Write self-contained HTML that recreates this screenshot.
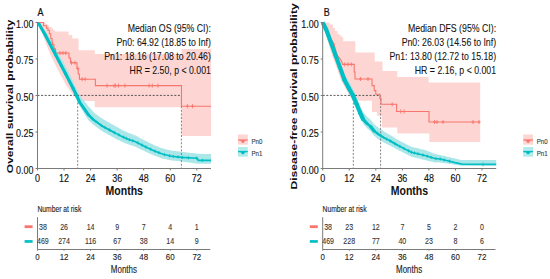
<!DOCTYPE html>
<html><head><meta charset="utf-8"><style>
html,body{margin:0;padding:0;background:#fff;}
svg{display:block;}
text{font-family:"Liberation Sans",sans-serif;fill:#111111;stroke:#111111;stroke-width:0.22px;}
.tk{font-size:11.2px;stroke-width:0.15px;}
.xt{font-size:12.1px;font-weight:bold;fill:#111;stroke:none;}
.yt{font-weight:bold;fill:#111;stroke:none;}
.pl{font-size:10.3px;}
.an{font-size:10.9px;stroke-width:0.08px;}
.lg{font-size:7.3px;fill:#333;stroke:#333;stroke-width:0.1px;}
.rt{font-size:8.25px;fill:#222;stroke:#222;stroke-width:0.12px;}
.rn{font-size:8.6px;fill:#333;stroke:#333;stroke-width:0.1px;}
.rx{font-size:9.9px;fill:#222;stroke:#222;stroke-width:0.12px;}
.rxt{font-size:10.0px;fill:#222;stroke:#222;stroke-width:0.12px;}
</style></head>
<body><svg width="550" height="279" viewBox="0 0 550 279">
<rect width="550" height="279" fill="#fff"/>
<polygon points="37.5,22.5 45.5,22.5 45.5,24 47.5,24 47.5,25.5 49.5,25.5 49.5,27 51.5,27 51.5,28.5 53,28.5 53,30 55,30 55,31.4 68.6,31.4 68.6,35 72.2,35 72.2,38.6 78.6,38.6 78.6,50.2 94.8,50.2 94.8,54 181.5,54 181.5,49.1 211,49.1 211,136 181.5,136 181.5,107.2 94.8,107.2 94.8,101 78.5,101 73,95 66,85 58,70 50.5,55 46.5,45 41,30 37.5,23" fill="#FDD6D3"/>
<polygon points="37.5,22 38.1,22.18 38.7,22.36 39.67,23.56 40.64,24.75 41.61,25.95 42.59,27.14 43.56,28.34 44.53,29.54 45.5,30.9 46.42,32.46 47.34,34.02 48.25,35.59 49.17,37.15 50.09,38.71 51.01,40.27 51.93,41.83 52.85,43.39 53.76,44.96 54.68,46.52 55.6,48.14 56.6,49.95 57.6,51.76 58.6,53.57 59.6,55.38 60.6,57.19 61.6,59 62.6,60.81 63.6,62.62 64.6,64.43 65.6,66.35 66.52,68.22 67.45,70.09 68.38,71.96 69.3,73.83 70.22,75.7 71.15,77.57 72.08,79.44 73,81.32 73.78,82.95 74.55,84.58 75.32,86.22 76.1,87.85 76.95,89.79 77.8,91.73 78.65,93.5 79.5,95.2 80.38,96.28 81.26,97.37 82.14,98.45 83.02,99.54 83.9,100.62 84.78,101.7 85.66,102.79 86.54,103.87 87.42,104.96 88.3,106.14 89.3,107.29 90.3,108.43 91.3,109.57 92.3,110.71 93.3,111.86 94.27,112.7 95.23,113.51 96.2,114.23 97.17,114.95 98.13,115.68 99.1,116.4 100.07,117.13 101.03,117.85 102,118.58 103,119.14 104,119.7 105,120.27 106,120.83 107,121.39 108,121.96 109,122.52 110,123.08 111,123.65 112,124.21 113,124.77 114,125.34 115,125.9 115.99,126.45 116.97,127.01 117.96,127.56 118.94,128.11 119.93,128.67 120.91,129.22 121.9,129.78 122.86,130.23 123.81,130.68 124.77,131.13 125.73,131.59 126.69,132.04 127.64,132.49 128.6,132.94 129.51,133.28 130.43,133.62 131.34,133.95 132.26,134.29 133.17,134.63 134.09,134.96 135,135.3 135.98,135.82 136.96,136.35 137.95,136.87 138.93,137.39 139.91,137.92 140.89,138.44 141.87,138.96 142.85,139.49 143.84,140.01 144.82,140.54 145.8,141.06 146.76,141.53 147.71,141.99 148.67,142.46 149.62,142.93 150.58,143.4 151.53,143.86 152.49,144.33 153.44,144.8 154.4,145.27 155.36,145.64 156.31,146.02 157.27,146.4 158.22,146.78 159.18,147.16 160.13,147.53 161.09,147.89 162.04,148.24 163,148.6 163.96,148.82 164.91,149.04 165.87,149.27 166.82,149.49 167.78,149.71 168.73,149.93 169.69,150.16 170.64,150.38 171.6,150.6 172.59,150.72 173.58,150.84 174.57,150.96 175.56,151.08 176.55,151.2 177.54,151.32 178.53,151.44 179.52,151.56 180.51,151.68 181.5,151.83 182.5,151.95 183.5,152.07 184.5,152.18 185.5,152.3 186.5,152.42 187.5,152.53 188.5,152.65 189.5,152.77 190.5,152.88 191.5,153 192.5,153.12 193.5,153.23 194.5,153.35 195.5,153.47 196.5,153.58 197.5,153.7 198,153.8 199,153.82 200,153.83 201,153.85 202,153.86 203,153.88 204,153.89 205,153.91 206,153.92 207,153.94 208,153.95 209,153.97 210,153.98 211,154 211,163.7 210,163.7 209,163.7 208,163.7 207,163.7 206,163.7 205,163.7 204,163.7 203,163.7 202,163.7 201,163.7 200,163.7 199,163.7 198,163.7 197.5,163.7 196.5,163.56 195.5,163.42 194.5,163.28 193.5,163.14 192.5,163 191.5,162.85 190.5,162.71 189.5,162.57 188.5,162.43 187.5,162.29 186.5,162.15 185.5,162.01 184.5,161.87 183.5,161.73 182.5,161.59 181.5,161.45 180.51,161.29 179.52,161.2 178.53,161.11 177.54,161.02 176.55,160.93 175.56,160.84 174.57,160.74 173.58,160.65 172.59,160.56 171.6,160.47 170.64,160.27 169.69,160.08 168.73,159.88 167.78,159.69 166.82,159.49 165.87,159.3 164.91,159.1 163.96,158.91 163,158.71 162.04,158.39 161.09,158.06 160.13,157.73 159.18,157.39 158.22,157.05 157.27,156.71 156.31,156.37 155.36,156.03 154.4,155.69 153.44,155.26 152.49,154.83 151.53,154.4 150.58,153.97 149.62,153.54 148.67,153.11 147.71,152.69 146.76,152.26 145.8,151.83 144.82,151.34 143.84,150.86 142.85,150.37 141.87,149.89 140.89,149.41 139.91,148.92 138.93,148.44 137.95,147.95 136.96,147.47 135.98,146.98 135,146.5 134.09,146.22 133.17,145.95 132.26,145.67 131.34,145.39 130.43,145.11 129.51,144.84 128.6,144.56 127.64,144.17 126.69,143.78 125.73,143.39 124.77,143 123.81,142.61 122.86,142.22 121.9,141.83 120.91,141.34 119.93,140.85 118.94,140.36 117.96,139.87 116.97,139.38 115.99,138.89 115,138.4 114,137.84 113,137.27 112,136.71 111,136.15 110,135.58 109,135.02 108,134.46 107,133.89 106,133.33 105,132.77 104,132.2 103,131.64 102,131.08 101.03,130.35 100.07,129.63 99.1,128.9 98.13,128.18 97.17,127.45 96.2,126.73 95.23,126.01 94.27,125.35 93.3,124.72 92.3,123.79 91.3,122.86 90.3,121.94 89.3,121.01 88.3,120.08 87.42,118.72 86.54,117.29 85.66,115.85 84.78,114.42 83.9,112.98 83.02,111.54 82.14,110.11 81.26,108.67 80.38,107.24 79.5,105.8 78.65,103.75 77.8,101.74 76.95,99.82 76.1,97.9 75.32,96.28 74.55,94.66 73.78,93.05 73,91.43 72.08,89.58 71.15,87.73 70.22,85.88 69.3,84.03 68.38,82.18 67.45,80.33 66.52,78.48 65.6,76.63 64.6,74.69 63.6,72.78 62.6,70.87 61.6,68.96 60.6,67.05 59.6,65.14 58.6,63.23 57.6,61.32 56.6,59.41 55.6,57.5 54.68,55.74 53.76,53.97 52.85,52.2 51.93,50.43 51.01,48.65 50.09,46.88 49.17,45.11 48.25,43.33 47.34,41.56 46.42,39.79 45.5,38.02 44.53,36.16 43.56,34.19 42.59,32.21 41.61,30.24 40.64,28.27 39.67,26.29 38.7,24.32 38.1,23.66 37.5,23" fill="#A2E3E5" fill-opacity="0.9"/>
<line x1="37.5" y1="95.4" x2="181.4" y2="95.4" stroke="#444" stroke-width="0.9" stroke-dasharray="2 1.6"/>
<line x1="77.7" y1="95.4" x2="77.7" y2="168.5" stroke="#777" stroke-width="0.9" stroke-dasharray="2 1.6"/>
<line x1="181.4" y1="95.4" x2="181.4" y2="168.5" stroke="#777" stroke-width="0.9" stroke-dasharray="2 1.6"/>
<polyline points="37.5,22.5 43.5,22.5 43.5,25.7 46.6,25.7 46.6,28.3 48,28.3 48,30.5 49.4,30.5 49.4,33.8 50.8,33.8 50.8,38.5 52,38.5 52,42 52.6,42 52.6,44.5 53.9,44.5 53.9,48.8 55.5,48.8 55.5,53 69,53 69,58 70.5,58 70.5,62.8 77,62.8 77,68.5 78.2,68.5 78.2,74 79.4,74 79.4,79.2 95.4,79.2 95.4,85.6 181.5,85.6 181.5,106.2 211,106.2" fill="none" stroke="#F8766D" stroke-width="1.1"/>
<path d="M60 51v4M58.5 53h3" stroke="#F8766D" stroke-width="0.9"/>
<path d="M62.9 51v4M61.4 53h3" stroke="#F8766D" stroke-width="0.9"/>
<path d="M65.8 51v4M64.3 53h3" stroke="#F8766D" stroke-width="0.9"/>
<path d="M71.5 60.8v4M70 62.8h3" stroke="#F8766D" stroke-width="0.9"/>
<path d="M75 60.8v4M73.5 62.8h3" stroke="#F8766D" stroke-width="0.9"/>
<path d="M77.9 66.5v4M76.4 68.5h3" stroke="#F8766D" stroke-width="0.9"/>
<path d="M82.2 77.2v4M80.7 79.2h3" stroke="#F8766D" stroke-width="0.9"/>
<path d="M85.1 77.2v4M83.6 79.2h3" stroke="#F8766D" stroke-width="0.9"/>
<path d="M107.1 83.6v4M105.6 85.6h3" stroke="#F8766D" stroke-width="0.9"/>
<path d="M114.1 83.6v4M112.6 85.6h3" stroke="#F8766D" stroke-width="0.9"/>
<path d="M115.6 83.6v4M114.1 85.6h3" stroke="#F8766D" stroke-width="0.9"/>
<path d="M118.5 83.6v4M117 85.6h3" stroke="#F8766D" stroke-width="0.9"/>
<path d="M124.9 83.6v4M123.4 85.6h3" stroke="#F8766D" stroke-width="0.9"/>
<path d="M149.1 83.6v4M147.6 85.6h3" stroke="#F8766D" stroke-width="0.9"/>
<path d="M152.3 83.6v4M150.8 85.6h3" stroke="#F8766D" stroke-width="0.9"/>
<path d="M158 83.6v4M156.5 85.6h3" stroke="#F8766D" stroke-width="0.9"/>
<path d="M187.4 104.2v4M185.9 106.2h3" stroke="#F8766D" stroke-width="0.9"/>
<path d="M192.5 104.2v4M191 106.2h3" stroke="#F8766D" stroke-width="0.9"/>
<polyline points="37.5,22.5 38.7,23.5 45.5,35.5 55.6,54.7 65.6,73.8 73,88.2 76.1,94.5 79.5,102 83.9,108.3 88.3,114.6 93.3,119.6 102,125.9 115,132.9 121.9,136.5 128.6,139.4 135,141.5 145.8,147 154.4,151 163,154.2 171.6,156.2 181.5,157.4 197.5,158.2 198,160.4 211,160.4" fill="none" stroke="#00BFC4" stroke-width="1.6" stroke-linejoin="bevel"/>
<line x1="38.7" y1="23.5" x2="45.5" y2="35.5" stroke="#00BFC4" stroke-width="3.1" stroke-linecap="butt"/>
<line x1="45.5" y1="35.5" x2="55.6" y2="54.7" stroke="#00BFC4" stroke-width="3.1" stroke-linecap="round"/>
<line x1="55.6" y1="54.7" x2="65.6" y2="73.8" stroke="#00BFC4" stroke-width="3.1" stroke-linecap="round"/>
<line x1="65.6" y1="73.8" x2="73" y2="88.2" stroke="#00BFC4" stroke-width="3.1" stroke-linecap="round"/>
<line x1="73" y1="88.2" x2="76.1" y2="94.5" stroke="#00BFC4" stroke-width="3.1" stroke-linecap="round"/>
<line x1="76.1" y1="94.5" x2="79.5" y2="102" stroke="#00BFC4" stroke-width="3.1" stroke-linecap="round"/>
<line x1="79.5" y1="102" x2="83.9" y2="108.3" stroke="#00BFC4" stroke-width="2.87" stroke-linecap="round"/>
<line x1="83.9" y1="108.3" x2="88.3" y2="114.6" stroke="#00BFC4" stroke-width="2.87" stroke-linecap="round"/>
<line x1="88.3" y1="114.6" x2="93.3" y2="119.6" stroke="#00BFC4" stroke-width="2.28" stroke-linecap="round"/>
<line x1="93.3" y1="119.6" x2="102" y2="125.9" stroke="#00BFC4" stroke-width="1.91" stroke-linecap="round"/>
<line x1="102" y1="125.9" x2="115" y2="132.9" stroke="#00BFC4" stroke-width="1.65" stroke-linecap="round"/>
<path d="M39.5 23.31v3.2M38.2 24.91h2.6" stroke="#00BFC4" stroke-width="0.9"/>
<path d="M41.22 26.34v3.2M39.92 27.94h2.6" stroke="#00BFC4" stroke-width="0.9"/>
<path d="M42.66 28.89v3.2M41.36 30.49h2.6" stroke="#00BFC4" stroke-width="0.9"/>
<path d="M44.9 32.84v3.2M43.6 34.44h2.6" stroke="#00BFC4" stroke-width="0.9"/>
<path d="M46.22 35.26v3.2M44.92 36.86h2.6" stroke="#00BFC4" stroke-width="0.9"/>
<path d="M48.27 39.17v3.2M46.97 40.77h2.6" stroke="#00BFC4" stroke-width="0.9"/>
<path d="M50.06 42.57v3.2M48.76 44.17h2.6" stroke="#00BFC4" stroke-width="0.9"/>
<path d="M51.35 45.02v3.2M50.05 46.62h2.6" stroke="#00BFC4" stroke-width="0.9"/>
<path d="M53.36 48.85v3.2M52.06 50.45h2.6" stroke="#00BFC4" stroke-width="0.9"/>
<path d="M54.62 51.24v3.2M53.32 52.84h2.6" stroke="#00BFC4" stroke-width="0.9"/>
<path d="M56.52 54.85v3.2M55.22 56.45h2.6" stroke="#00BFC4" stroke-width="0.9"/>
<path d="M57.83 57.36v3.2M56.53 58.96h2.6" stroke="#00BFC4" stroke-width="0.9"/>
<path d="M59.17 59.93v3.2M57.87 61.53h2.6" stroke="#00BFC4" stroke-width="0.9"/>
<path d="M61.05 63.52v3.2M59.75 65.12h2.6" stroke="#00BFC4" stroke-width="0.9"/>
<path d="M63.58 68.34v3.2M62.28 69.94h2.6" stroke="#00BFC4" stroke-width="0.9"/>
<path d="M64.98 71.01v3.2M63.68 72.61h2.6" stroke="#00BFC4" stroke-width="0.9"/>
<path d="M66.53 74.01v3.2M65.23 75.61h2.6" stroke="#00BFC4" stroke-width="0.9"/>
<path d="M68.74 78.3v3.2M67.44 79.9h2.6" stroke="#00BFC4" stroke-width="0.9"/>
<path d="M71.45 83.59v3.2M70.15 85.19h2.6" stroke="#00BFC4" stroke-width="0.9"/>
<path d="M73.58 87.77v3.2M72.28 89.37h2.6" stroke="#00BFC4" stroke-width="0.9"/>
<path d="M75.41 91.5v3.2M74.11 93.1h2.6" stroke="#00BFC4" stroke-width="0.9"/>
<path d="M78.17 97.47v3.2M76.87 99.07h2.6" stroke="#00BFC4" stroke-width="0.9"/>
<path d="M79.45 100.28v3.2M78.15 101.88h2.6" stroke="#00BFC4" stroke-width="0.9"/>
<path d="M82.02 104.01v3.2M80.72 105.61h2.6" stroke="#00BFC4" stroke-width="0.9"/>
<path d="M85.76 109.37v3.2M84.46 110.97h2.6" stroke="#00BFC4" stroke-width="0.9"/>
<path d="M88.98 113.68v3.2M87.68 115.28h2.6" stroke="#00BFC4" stroke-width="0.9"/>
<path d="M92.11 116.81v3.2M90.81 118.41h2.6" stroke="#00BFC4" stroke-width="0.9"/>
<path d="M95.92 119.9v3.2M94.62 121.5h2.6" stroke="#00BFC4" stroke-width="0.9"/>
<path d="M101.56 123.98v3.2M100.26 125.58h2.6" stroke="#00BFC4" stroke-width="0.9"/>
<path d="M104.91 125.86v3.2M103.61 127.46h2.6" stroke="#00BFC4" stroke-width="0.9"/>
<path d="M109.7 128.45v3.2M108.4 130.05h2.6" stroke="#00BFC4" stroke-width="0.9"/>
<path d="M114.7 131.14v3.2M113.4 132.74h2.6" stroke="#00BFC4" stroke-width="0.9"/>
<path d="M118.74 133.25v3.2M117.44 134.85h2.6" stroke="#00BFC4" stroke-width="0.9"/>
<path d="M123.41 135.55v3.2M122.11 137.15h2.6" stroke="#00BFC4" stroke-width="0.9"/>
<path d="M126.34 136.82v3.2M125.04 138.42h2.6" stroke="#00BFC4" stroke-width="0.9"/>
<path d="M129.25 138.01v3.2M127.95 139.61h2.6" stroke="#00BFC4" stroke-width="0.9"/>
<path d="M132.69 139.14v3.2M131.39 140.74h2.6" stroke="#00BFC4" stroke-width="0.9"/>
<path d="M137.84 141.35v3.2M136.54 142.95h2.6" stroke="#00BFC4" stroke-width="0.9"/>
<path d="M142.08 143.51v3.2M140.78 145.11h2.6" stroke="#00BFC4" stroke-width="0.9"/>
<path d="M145.91 145.45v3.2M144.61 147.05h2.6" stroke="#00BFC4" stroke-width="0.9"/>
<path d="M150.72 147.69v3.2M149.42 149.29h2.6" stroke="#00BFC4" stroke-width="0.9"/>
<path d="M155.05 149.64v3.2M153.75 151.24h2.6" stroke="#00BFC4" stroke-width="0.9"/>
<path d="M158.83 151.05v3.2M157.53 152.65h2.6" stroke="#00BFC4" stroke-width="0.9"/>
<path d="M164.39 152.92v3.2M163.09 154.52h2.6" stroke="#00BFC4" stroke-width="0.9"/>
<path d="M169.61 154.14v3.2M168.31 155.74h2.6" stroke="#00BFC4" stroke-width="0.9"/>
<path d="M173.19 154.79v3.2M171.89 156.39h2.6" stroke="#00BFC4" stroke-width="0.9"/>
<path d="M177.96 155.37v3.2M176.66 156.97h2.6" stroke="#00BFC4" stroke-width="0.9"/>
<path d="M182.55 155.85v3.2M181.25 157.45h2.6" stroke="#00BFC4" stroke-width="0.9"/>
<path d="M188.4 156.14v3.2M187.1 157.74h2.6" stroke="#00BFC4" stroke-width="0.9"/>
<path d="M196.68 156.56v3.2M195.38 158.16h2.6" stroke="#00BFC4" stroke-width="0.9"/>
<path d="M202.49 158.8v3.2M201.19 160.4h2.6" stroke="#00BFC4" stroke-width="0.9"/>
<path d="M37.5 22V168.5H211" fill="none" stroke="#7a7a7a" stroke-width="1"/>
<path d="M35.5 168.5h2" stroke="#7a7a7a" stroke-width="1"/>
<text transform="translate(33.5 173.5) scale(0.8 1)" text-anchor="end" class="tk">0.00</text>
<path d="M35.5 132h2" stroke="#7a7a7a" stroke-width="1"/>
<text transform="translate(33.5 137) scale(0.8 1)" text-anchor="end" class="tk">0.25</text>
<path d="M35.5 95.5h2" stroke="#7a7a7a" stroke-width="1"/>
<text transform="translate(33.5 100.5) scale(0.8 1)" text-anchor="end" class="tk">0.50</text>
<path d="M35.5 59h2" stroke="#7a7a7a" stroke-width="1"/>
<text transform="translate(33.5 64) scale(0.8 1)" text-anchor="end" class="tk">0.75</text>
<path d="M35.5 22.5h2" stroke="#7a7a7a" stroke-width="1"/>
<text transform="translate(33.5 27.5) scale(0.8 1)" text-anchor="end" class="tk">1.00</text>
<path d="M37.5 168.5v2" stroke="#7a7a7a" stroke-width="1"/>
<text transform="translate(37.5 181.6) scale(0.8 1)" text-anchor="middle" class="tk">0</text>
<path d="M64.05 168.5v2" stroke="#7a7a7a" stroke-width="1"/>
<text transform="translate(64.05 181.6) scale(0.8 1)" text-anchor="middle" class="tk">12</text>
<path d="M90.6 168.5v2" stroke="#7a7a7a" stroke-width="1"/>
<text transform="translate(90.6 181.6) scale(0.8 1)" text-anchor="middle" class="tk">24</text>
<path d="M117.15 168.5v2" stroke="#7a7a7a" stroke-width="1"/>
<text transform="translate(117.15 181.6) scale(0.8 1)" text-anchor="middle" class="tk">36</text>
<path d="M143.7 168.5v2" stroke="#7a7a7a" stroke-width="1"/>
<text transform="translate(143.7 181.6) scale(0.8 1)" text-anchor="middle" class="tk">48</text>
<path d="M170.25 168.5v2" stroke="#7a7a7a" stroke-width="1"/>
<text transform="translate(170.25 181.6) scale(0.8 1)" text-anchor="middle" class="tk">60</text>
<path d="M196.8 168.5v2" stroke="#7a7a7a" stroke-width="1"/>
<text transform="translate(196.8 181.6) scale(0.8 1)" text-anchor="middle" class="tk">72</text>
<text transform="translate(124.25 194.7) scale(0.87 1)" text-anchor="middle" class="xt">Months</text>
<text transform="translate(12.6 96.4) scale(0.8 1) rotate(-90)" text-anchor="middle" class="yt" style="font-size:11.96px">Overall survival probability</text>
<text transform="translate(37.4 15.7) scale(0.87 1)" class="pl">A</text>
<text transform="translate(210.9 31.7) scale(0.805 1)" text-anchor="end" class="an">Median OS (95% CI):</text>
<text transform="translate(210.9 45.77) scale(0.805 1)" text-anchor="end" class="an">Pn0: 64.92 (18.85 to Inf)</text>
<text transform="translate(210.9 59.84) scale(0.805 1)" text-anchor="end" class="an">Pn1: 18.16 (17.08 to 20.46)</text>
<text transform="translate(210.9 73.91) scale(0.805 1)" text-anchor="end" class="an">HR = 2.50, p &lt; 0.001</text>
<rect x="238" y="134.5" width="9.8" height="10.1" fill="#FDD6D3"/>
<rect x="238" y="147" width="9.8" height="9.7" fill="#B3EAEC"/>
<path d="M238 140h9.8" stroke="#F8766D" stroke-width="1.2"/>
<path d="M238 151.6h9.8" stroke="#00BFC4" stroke-width="1.4"/>
<path d="M240.2 140l5.4 0l-1.9 2.7h-1.6z" fill="#F8766D"/>
<path d="M240.2 151.6l5.4 0l-1.9 2.7h-1.6z" fill="#00BFC4"/>
<text transform="translate(251.5 143.5) scale(0.84 1)" class="lg">Pn0</text>
<text transform="translate(251.5 155.6) scale(0.84 1)" class="lg">Pn1</text>
<text transform="translate(37.4 212.3) scale(0.82 1)" class="rt">Number at risk</text>
<path d="M37.5 217.2V249.5H210.3" fill="none" stroke="#7a7a7a" stroke-width="1"/>
<rect x="24.6" y="225.3" width="8" height="2.8" fill="#F8766D"/>
<rect x="24.6" y="240.1" width="8" height="2.7" fill="#00BFC4"/>
<path d="M37.5 249.5v1.2" stroke="#7a7a7a" stroke-width="1"/>
<text transform="translate(37.5 260.4) scale(0.8 1)" text-anchor="middle" class="rx">0</text>
<text transform="translate(42.9 229.9) scale(0.82 1)" text-anchor="middle" class="rn">38</text>
<text transform="translate(42.9 244.2) scale(0.82 1)" text-anchor="middle" class="rn">469</text>
<path d="M64.05 249.5v1.2" stroke="#7a7a7a" stroke-width="1"/>
<text transform="translate(64.05 260.4) scale(0.8 1)" text-anchor="middle" class="rx">12</text>
<text transform="translate(64.05 229.9) scale(0.82 1)" text-anchor="middle" class="rn">26</text>
<text transform="translate(64.05 244.2) scale(0.82 1)" text-anchor="middle" class="rn">274</text>
<path d="M90.6 249.5v1.2" stroke="#7a7a7a" stroke-width="1"/>
<text transform="translate(90.6 260.4) scale(0.8 1)" text-anchor="middle" class="rx">24</text>
<text transform="translate(90.6 229.9) scale(0.82 1)" text-anchor="middle" class="rn">14</text>
<text transform="translate(90.6 244.2) scale(0.82 1)" text-anchor="middle" class="rn">116</text>
<path d="M117.15 249.5v1.2" stroke="#7a7a7a" stroke-width="1"/>
<text transform="translate(117.15 260.4) scale(0.8 1)" text-anchor="middle" class="rx">36</text>
<text transform="translate(117.15 229.9) scale(0.82 1)" text-anchor="middle" class="rn">9</text>
<text transform="translate(117.15 244.2) scale(0.82 1)" text-anchor="middle" class="rn">67</text>
<path d="M143.7 249.5v1.2" stroke="#7a7a7a" stroke-width="1"/>
<text transform="translate(143.7 260.4) scale(0.8 1)" text-anchor="middle" class="rx">48</text>
<text transform="translate(143.7 229.9) scale(0.82 1)" text-anchor="middle" class="rn">7</text>
<text transform="translate(143.7 244.2) scale(0.82 1)" text-anchor="middle" class="rn">38</text>
<path d="M170.25 249.5v1.2" stroke="#7a7a7a" stroke-width="1"/>
<text transform="translate(170.25 260.4) scale(0.8 1)" text-anchor="middle" class="rx">60</text>
<text transform="translate(170.25 229.9) scale(0.82 1)" text-anchor="middle" class="rn">4</text>
<text transform="translate(170.25 244.2) scale(0.82 1)" text-anchor="middle" class="rn">14</text>
<path d="M196.8 249.5v1.2" stroke="#7a7a7a" stroke-width="1"/>
<text transform="translate(196.8 260.4) scale(0.8 1)" text-anchor="middle" class="rx">72</text>
<text transform="translate(196.8 229.9) scale(0.82 1)" text-anchor="middle" class="rn">1</text>
<text transform="translate(196.8 244.2) scale(0.82 1)" text-anchor="middle" class="rn">9</text>
<text transform="translate(123.9 272.7) scale(0.8 1)" text-anchor="middle" class="rxt">Months</text>
<polygon points="322.7,22.5 329.7,22.5 329.7,24.5 332.9,24.5 332.9,27.7 335,27.7 335,31 337.5,31 337.5,34 339.5,34 339.5,35.5 341.5,35.5 341.5,37.3 343.2,37.3 343.2,41.3 355.3,41.3 355.3,52.6 374.7,52.6 374.7,61.5 382.5,61.5 382.5,71 397.2,71 397.2,77 428.6,77 428.6,82.5 480.2,82.5 480.2,142 429.4,142 429.4,133.4 397.2,133.4 397.2,127.5 382,127.5 382,115.7 377,115.7 377,112 372,112 372,100.8 356,100.8 353,100.8 349.5,95.4 345.5,88.5 341,80 337.5,70 332,55.4 328,42 325,32 322.7,23" fill="#FDD6D3"/>
<polygon points="322.7,22 323.62,23.6 324.55,25.21 325.47,26.81 326.4,28.41 327.32,30.68 328.24,32.95 329.16,35.22 330.08,37.49 331,39.76 331.92,42.03 332.84,44.3 333.76,46.57 334.68,48.84 335.6,51.11 336.59,53.55 337.58,55.99 338.57,58.51 339.56,61.07 340.54,63.64 341.53,66.21 342.52,68.78 343.51,71.35 344.5,73.92 345.4,75.47 346.3,77.02 347.2,78.57 348.1,80.12 349,81.67 349.98,83.23 350.95,84.95 351.92,86.68 352.9,88.4 353.8,90.55 354.7,92.7 355.6,94.85 356.5,97 357.38,99.12 358.25,101.25 359.12,103.38 360,105.5 361,107.67 362,109.83 363,112.03 363.88,113.05 364.75,114.08 365.62,115.1 366.5,116.12 367.36,116.91 368.22,117.69 369.08,118.48 369.94,119.26 370.8,120.04 371.6,121.07 372.4,122.09 373.2,123.11 374,124.13 374.9,124.84 375.8,125.55 376.7,126.26 377.6,126.97 378.5,127.67 379.4,128.38 380.28,128.95 381.17,129.54 382.05,130.12 382.93,130.71 383.82,131.29 384.7,131.88 385.58,132.38 386.47,132.88 387.35,133.38 388.23,133.88 389.12,134.39 390,134.89 390.9,135.47 391.8,136.04 392.7,136.62 393.6,137.2 394.5,137.78 395.4,138.36 396.3,138.93 397.2,139.5 398.18,140 399.15,140.5 400.12,141 401.1,141.5 402.07,142 403.05,142.5 404.02,143 405,143.5 405.93,143.97 406.86,144.44 407.79,144.91 408.71,145.39 409.64,145.86 410.57,146.33 411.5,146.8 412.4,147.01 413.3,147.23 414.2,147.44 415.1,147.65 416,147.86 416.9,148.07 417.8,148.29 418.7,148.5 419.59,148.72 420.48,148.95 421.36,149.18 422.25,149.4 423.14,149.62 424.02,149.85 424.91,150.08 425.8,150.3 426.8,150.69 427.8,151.09 428.8,151.5 429.8,151.91 430.8,152.31 431.8,152.72 432.8,153.13 433.8,153.54 434.8,153.94 435.67,154.12 436.53,154.3 437.4,154.47 438.27,154.65 439.13,154.82 440,155 440.94,155.21 441.88,155.43 442.81,155.64 443.75,155.85 444.69,156.06 445.62,156.27 446.56,156.49 447.5,156.7 448.44,156.94 449.38,157.17 450.31,157.41 451.25,157.65 452.19,157.89 453.12,158.12 454.06,158.36 455,158.6 456,158.81 457,159.03 458,159.24 459,159.46 460,159.67 461,159.89 462,160.1 462.98,160.1 463.95,160.1 464.93,160.1 465.91,160.1 466.89,160.1 467.86,160.1 468.84,160.1 469.82,160.1 470.79,160.1 471.77,160.1 472.75,160.1 473.73,160.1 474.7,160.1 475.68,160.1 476.66,160.1 477.63,160.1 478.61,160.1 479.59,160.1 480.57,160.1 481.54,160.1 482.52,160.1 483.5,160.1 484.47,160.1 485.45,160.1 486.43,160.1 487.41,160.1 488.38,160.1 489.36,160.1 490.34,160.1 491.31,160.1 492.29,160.1 493.27,160.1 494.25,160.1 495.22,160.1 496.2,160.1 496.2,165.8 495.22,165.8 494.25,165.79 493.27,165.79 492.29,165.79 491.31,165.78 490.34,165.78 489.36,165.78 488.38,165.78 487.41,165.77 486.43,165.77 485.45,165.77 484.47,165.76 483.5,165.76 482.52,165.76 481.54,165.76 480.57,165.75 479.59,165.75 478.61,165.75 477.63,165.75 476.66,165.74 475.68,165.74 474.7,165.74 473.73,165.73 472.75,165.73 471.77,165.73 470.79,165.73 469.82,165.72 468.84,165.72 467.86,165.72 466.89,165.71 465.91,165.71 464.93,165.71 463.95,165.71 462.98,165.7 462,165.7 461,165.57 460,165.44 459,165.32 458,165.19 457,165.06 456,164.93 455,164.8 454.06,164.65 453.12,164.49 452.19,164.33 451.25,164.18 450.31,164.02 449.38,163.87 448.44,163.71 447.5,163.55 446.56,163.42 445.62,163.29 444.69,163.16 443.75,163.03 442.81,162.89 441.88,162.76 440.94,162.63 440,162.5 439.13,162.48 438.27,162.46 437.4,162.44 436.53,162.41 435.67,162.39 434.8,162.37 433.8,162.14 432.8,161.91 431.8,161.69 430.8,161.46 429.8,161.23 428.8,161 427.8,160.77 426.8,160.54 425.8,160.3 424.91,160.08 424.02,159.85 423.14,159.62 422.25,159.4 421.36,159.18 420.48,158.95 419.59,158.72 418.7,158.5 417.8,158.29 416.9,158.07 416,157.86 415.1,157.65 414.2,157.44 413.3,157.23 412.4,157.01 411.5,156.8 410.57,156.33 409.64,155.86 408.71,155.39 407.79,154.91 406.86,154.44 405.93,153.97 405,153.5 404.02,153 403.05,152.5 402.07,152 401.1,151.5 400.12,151 399.15,150.5 398.18,150 397.2,149.5 396.3,149 395.4,148.5 394.5,148 393.6,147.5 392.7,147 391.8,146.5 390.9,146 390,145.51 389.12,145.08 388.23,144.66 387.35,144.23 386.47,143.81 385.58,143.39 384.7,142.96 383.82,142.45 382.93,141.95 382.05,141.44 381.17,140.93 380.28,140.43 379.4,139.88 378.5,139.18 377.6,138.47 376.7,137.76 375.8,137.05 374.9,136.34 374,135.63 373.2,134.61 372.4,133.59 371.6,132.57 370.8,131.54 369.94,130.76 369.08,129.98 368.22,129.19 367.36,128.41 366.5,127.62 365.62,126.6 364.75,125.58 363.88,124.55 363,123.53 362,121.33 361,119.08 360,116.83 359.12,114.64 358.25,112.44 357.38,110.24 356.5,108.04 355.6,105.82 354.7,103.59 353.8,101.37 352.9,99.14 351.92,97.34 350.95,95.53 349.98,93.72 349,91.96 348.1,90.22 347.2,88.48 346.3,86.75 345.4,85.01 344.5,83.27 343.51,80.5 342.52,77.72 341.53,74.95 340.54,72.17 339.56,69.4 338.57,66.62 337.58,63.8 336.59,60.9 335.6,58.01 334.68,55.32 333.76,52.63 332.84,49.94 331.92,47.25 331,44.56 330.08,41.87 329.16,39.18 328.24,36.49 327.32,33.79 326.4,31.1 325.47,29.08 324.55,27.05 323.62,25.03 322.7,23" fill="#A2E3E5" fill-opacity="0.9"/>
<line x1="322.7" y1="95.4" x2="380.9" y2="95.4" stroke="#444" stroke-width="0.9" stroke-dasharray="2 1.6"/>
<line x1="353.3" y1="95.4" x2="353.3" y2="168.5" stroke="#777" stroke-width="0.9" stroke-dasharray="2 1.6"/>
<line x1="380.6" y1="95.4" x2="380.6" y2="168.5" stroke="#777" stroke-width="0.9" stroke-dasharray="2 1.6"/>
<polyline points="322.7,22.5 331.8,40.6 334,43.8 335,48.1 337.2,55.6 339.4,57.8 341.5,61 342.6,64.4 354.2,64.4 354.2,72 355,72 355,79 372,79 372,85.6 374.2,85.6 374.2,90.6 375.8,90.6 375.8,94.2 379.9,94.2 379.9,98.5 381,98.5 381,104.3 396.6,104.3 396.6,111.5 429,111.5 429,122 480.2,122" fill="none" stroke="#F8766D" stroke-width="1.1"/>
<path d="M344.8 62.4v4M343.3 64.4h3" stroke="#F8766D" stroke-width="0.9"/>
<path d="M348 62.4v4M346.5 64.4h3" stroke="#F8766D" stroke-width="0.9"/>
<path d="M351.3 62.4v4M349.8 64.4h3" stroke="#F8766D" stroke-width="0.9"/>
<path d="M360.5 77v4M359 79h3" stroke="#F8766D" stroke-width="0.9"/>
<path d="M368 77v4M366.5 79h3" stroke="#F8766D" stroke-width="0.9"/>
<path d="M392.2 102.4v4M390.7 104.4h3" stroke="#F8766D" stroke-width="0.9"/>
<path d="M400.8 109.5v4M399.3 111.5h3" stroke="#F8766D" stroke-width="0.9"/>
<path d="M404.2 109.5v4M402.7 111.5h3" stroke="#F8766D" stroke-width="0.9"/>
<path d="M434.5 120v4M433 122h3" stroke="#F8766D" stroke-width="0.9"/>
<path d="M437 120v4M435.5 122h3" stroke="#F8766D" stroke-width="0.9"/>
<path d="M443 120v4M441.5 122h3" stroke="#F8766D" stroke-width="0.9"/>
<path d="M473 120v4M471.5 122h3" stroke="#F8766D" stroke-width="0.9"/>
<path d="M479 120v4M477.5 122h3" stroke="#F8766D" stroke-width="0.9"/>
<polyline points="322.7,22.5 326.4,30 335.6,55.4 344.5,80 349,88.5 352.9,95.4 356.5,104 360,112.5 363,119 366.5,123 370.8,126.8 374,130.8 379.4,134.9 384.7,138.1 390,140.8 397.2,145 405,149 411.5,152.3 418.7,154 425.8,155.8 434.8,158.5 440,159 447.5,160.7 455,162.6 462,164.1 496.2,164.4" fill="none" stroke="#00BFC4" stroke-width="1.6" stroke-linejoin="bevel"/>
<line x1="322.7" y1="22.5" x2="326.4" y2="30" stroke="#00BFC4" stroke-width="4.2" stroke-linecap="butt"/>
<line x1="326.4" y1="30" x2="335.6" y2="55.4" stroke="#00BFC4" stroke-width="4.2" stroke-linecap="round"/>
<line x1="335.6" y1="55.4" x2="344.5" y2="80" stroke="#00BFC4" stroke-width="4.2" stroke-linecap="round"/>
<line x1="344.5" y1="80" x2="349" y2="88.5" stroke="#00BFC4" stroke-width="4.2" stroke-linecap="round"/>
<line x1="349" y1="88.5" x2="352.9" y2="95.4" stroke="#00BFC4" stroke-width="4.2" stroke-linecap="round"/>
<line x1="352.9" y1="95.4" x2="356.5" y2="104" stroke="#00BFC4" stroke-width="4.2" stroke-linecap="round"/>
<line x1="356.5" y1="104" x2="360" y2="112.5" stroke="#00BFC4" stroke-width="4.2" stroke-linecap="round"/>
<line x1="360" y1="112.5" x2="363" y2="119" stroke="#00BFC4" stroke-width="4.2" stroke-linecap="round"/>
<line x1="363" y1="119" x2="366.5" y2="123" stroke="#00BFC4" stroke-width="3.12" stroke-linecap="round"/>
<line x1="366.5" y1="123" x2="370.8" y2="126.8" stroke="#00BFC4" stroke-width="2.51" stroke-linecap="round"/>
<line x1="370.8" y1="126.8" x2="374" y2="130.8" stroke="#00BFC4" stroke-width="3.37" stroke-linecap="round"/>
<line x1="374" y1="130.8" x2="379.4" y2="134.9" stroke="#00BFC4" stroke-width="2.21" stroke-linecap="round"/>
<line x1="379.4" y1="134.9" x2="384.7" y2="138.1" stroke="#00BFC4" stroke-width="1.85" stroke-linecap="round"/>
<line x1="390" y1="140.8" x2="397.2" y2="145" stroke="#00BFC4" stroke-width="1.8" stroke-linecap="round"/>
<path d="M324.7 24.95v3.2M323.4 26.55h2.6" stroke="#00BFC4" stroke-width="0.9"/>
<path d="M326.42 28.45v3.2M325.12 30.05h2.6" stroke="#00BFC4" stroke-width="0.9"/>
<path d="M327.86 32.43v3.2M326.56 34.03h2.6" stroke="#00BFC4" stroke-width="0.9"/>
<path d="M330.1 38.62v3.2M328.8 40.22h2.6" stroke="#00BFC4" stroke-width="0.9"/>
<path d="M331.42 42.25v3.2M330.12 43.85h2.6" stroke="#00BFC4" stroke-width="0.9"/>
<path d="M333.47 47.93v3.2M332.17 49.53h2.6" stroke="#00BFC4" stroke-width="0.9"/>
<path d="M335.26 52.86v3.2M333.96 54.46h2.6" stroke="#00BFC4" stroke-width="0.9"/>
<path d="M336.55 56.43v3.2M335.25 58.03h2.6" stroke="#00BFC4" stroke-width="0.9"/>
<path d="M338.56 61.99v3.2M337.26 63.59h2.6" stroke="#00BFC4" stroke-width="0.9"/>
<path d="M339.82 65.48v3.2M338.52 67.08h2.6" stroke="#00BFC4" stroke-width="0.9"/>
<path d="M341.72 70.71v3.2M340.42 72.31h2.6" stroke="#00BFC4" stroke-width="0.9"/>
<path d="M343.03 74.34v3.2M341.73 75.94h2.6" stroke="#00BFC4" stroke-width="0.9"/>
<path d="M344.37 78.05v3.2M343.07 79.65h2.6" stroke="#00BFC4" stroke-width="0.9"/>
<path d="M346.25 81.71v3.2M344.95 83.31h2.6" stroke="#00BFC4" stroke-width="0.9"/>
<path d="M348.78 86.48v3.2M347.48 88.08h2.6" stroke="#00BFC4" stroke-width="0.9"/>
<path d="M350.18 88.98v3.2M348.88 90.58h2.6" stroke="#00BFC4" stroke-width="0.9"/>
<path d="M351.73 91.73v3.2M350.43 93.33h2.6" stroke="#00BFC4" stroke-width="0.9"/>
<path d="M353.94 96.28v3.2M352.64 97.88h2.6" stroke="#00BFC4" stroke-width="0.9"/>
<path d="M356.65 102.77v3.2M355.35 104.37h2.6" stroke="#00BFC4" stroke-width="0.9"/>
<path d="M358.78 107.93v3.2M357.48 109.53h2.6" stroke="#00BFC4" stroke-width="0.9"/>
<path d="M360.61 112.22v3.2M359.31 113.82h2.6" stroke="#00BFC4" stroke-width="0.9"/>
<path d="M363.37 117.83v3.2M362.07 119.43h2.6" stroke="#00BFC4" stroke-width="0.9"/>
<path d="M364.65 119.28v3.2M363.35 120.88h2.6" stroke="#00BFC4" stroke-width="0.9"/>
<path d="M367.22 122.04v3.2M365.92 123.64h2.6" stroke="#00BFC4" stroke-width="0.9"/>
<path d="M370.96 125.4v3.2M369.66 127h2.6" stroke="#00BFC4" stroke-width="0.9"/>
<path d="M374.18 129.34v3.2M372.88 130.94h2.6" stroke="#00BFC4" stroke-width="0.9"/>
<path d="M377.31 131.71v3.2M376.01 133.31h2.6" stroke="#00BFC4" stroke-width="0.9"/>
<path d="M381.12 134.34v3.2M379.82 135.94h2.6" stroke="#00BFC4" stroke-width="0.9"/>
<path d="M386.76 137.55v3.2M385.46 139.15h2.6" stroke="#00BFC4" stroke-width="0.9"/>
<path d="M390.11 139.26v3.2M388.81 140.86h2.6" stroke="#00BFC4" stroke-width="0.9"/>
<path d="M394.9 142.06v3.2M393.6 143.66h2.6" stroke="#00BFC4" stroke-width="0.9"/>
<path d="M399.9 144.78v3.2M398.6 146.38h2.6" stroke="#00BFC4" stroke-width="0.9"/>
<path d="M403.94 146.86v3.2M402.64 148.46h2.6" stroke="#00BFC4" stroke-width="0.9"/>
<path d="M408.61 149.23v3.2M407.31 150.83h2.6" stroke="#00BFC4" stroke-width="0.9"/>
<path d="M411.54 150.71v3.2M410.24 152.31h2.6" stroke="#00BFC4" stroke-width="0.9"/>
<path d="M414.45 151.4v3.2M413.15 153h2.6" stroke="#00BFC4" stroke-width="0.9"/>
<path d="M417.89 152.21v3.2M416.59 153.81h2.6" stroke="#00BFC4" stroke-width="0.9"/>
<path d="M423.04 153.5v3.2M421.74 155.1h2.6" stroke="#00BFC4" stroke-width="0.9"/>
<path d="M427.28 154.64v3.2M425.98 156.24h2.6" stroke="#00BFC4" stroke-width="0.9"/>
<path d="M431.11 155.79v3.2M429.81 157.39h2.6" stroke="#00BFC4" stroke-width="0.9"/>
<path d="M435.92 157.01v3.2M434.62 158.61h2.6" stroke="#00BFC4" stroke-width="0.9"/>
<path d="M440.25 157.46v3.2M438.95 159.06h2.6" stroke="#00BFC4" stroke-width="0.9"/>
<path d="M444.03 158.31v3.2M442.73 159.91h2.6" stroke="#00BFC4" stroke-width="0.9"/>
<path d="M449.59 159.63v3.2M448.29 161.23h2.6" stroke="#00BFC4" stroke-width="0.9"/>
<path d="M483 162.7v3.4" stroke="#00BFC4" stroke-width="1"/>
<path d="M322.7 22V168.5H496.2" fill="none" stroke="#7a7a7a" stroke-width="1"/>
<path d="M320.7 168.5h2" stroke="#7a7a7a" stroke-width="1"/>
<text transform="translate(318.7 173.5) scale(0.8 1)" text-anchor="end" class="tk">0.00</text>
<path d="M320.7 132h2" stroke="#7a7a7a" stroke-width="1"/>
<text transform="translate(318.7 137) scale(0.8 1)" text-anchor="end" class="tk">0.25</text>
<path d="M320.7 95.5h2" stroke="#7a7a7a" stroke-width="1"/>
<text transform="translate(318.7 100.5) scale(0.8 1)" text-anchor="end" class="tk">0.50</text>
<path d="M320.7 59h2" stroke="#7a7a7a" stroke-width="1"/>
<text transform="translate(318.7 64) scale(0.8 1)" text-anchor="end" class="tk">0.75</text>
<path d="M320.7 22.5h2" stroke="#7a7a7a" stroke-width="1"/>
<text transform="translate(318.7 27.5) scale(0.8 1)" text-anchor="end" class="tk">1.00</text>
<path d="M322.7 168.5v2" stroke="#7a7a7a" stroke-width="1"/>
<text transform="translate(322.7 181.6) scale(0.8 1)" text-anchor="middle" class="tk">0</text>
<path d="M349.25 168.5v2" stroke="#7a7a7a" stroke-width="1"/>
<text transform="translate(349.25 181.6) scale(0.8 1)" text-anchor="middle" class="tk">12</text>
<path d="M375.8 168.5v2" stroke="#7a7a7a" stroke-width="1"/>
<text transform="translate(375.8 181.6) scale(0.8 1)" text-anchor="middle" class="tk">24</text>
<path d="M402.35 168.5v2" stroke="#7a7a7a" stroke-width="1"/>
<text transform="translate(402.35 181.6) scale(0.8 1)" text-anchor="middle" class="tk">36</text>
<path d="M428.9 168.5v2" stroke="#7a7a7a" stroke-width="1"/>
<text transform="translate(428.9 181.6) scale(0.8 1)" text-anchor="middle" class="tk">48</text>
<path d="M455.45 168.5v2" stroke="#7a7a7a" stroke-width="1"/>
<text transform="translate(455.45 181.6) scale(0.8 1)" text-anchor="middle" class="tk">60</text>
<path d="M482 168.5v2" stroke="#7a7a7a" stroke-width="1"/>
<text transform="translate(482 181.6) scale(0.8 1)" text-anchor="middle" class="tk">72</text>
<text transform="translate(409.45 194.7) scale(0.87 1)" text-anchor="middle" class="xt">Months</text>
<text transform="translate(297.32 96.4) scale(0.8 1) rotate(-90)" text-anchor="middle" class="yt" style="font-size:12.11px">Disease-free survival probability</text>
<text transform="translate(323.74 15.7) scale(0.87 1)" class="pl">B</text>
<text transform="translate(496.1 31.7) scale(0.805 1)" text-anchor="end" class="an">Median DFS (95% CI):</text>
<text transform="translate(496.1 45.77) scale(0.805 1)" text-anchor="end" class="an">Pn0: 26.03 (14.56 to Inf)</text>
<text transform="translate(496.1 59.84) scale(0.805 1)" text-anchor="end" class="an">Pn1: 13.80 (12.72 to 15.18)</text>
<text transform="translate(496.1 73.91) scale(0.805 1)" text-anchor="end" class="an">HR = 2.16, p &lt; 0.001</text>
<rect x="523.2" y="134.5" width="9.8" height="10.1" fill="#FDD6D3"/>
<rect x="523.2" y="147" width="9.8" height="9.7" fill="#B3EAEC"/>
<path d="M523.2 140h9.8" stroke="#F8766D" stroke-width="1.2"/>
<path d="M523.2 151.6h9.8" stroke="#00BFC4" stroke-width="1.4"/>
<path d="M525.4 140l5.4 0l-1.9 2.7h-1.6z" fill="#F8766D"/>
<path d="M525.4 151.6l5.4 0l-1.9 2.7h-1.6z" fill="#00BFC4"/>
<text transform="translate(536.7 143.5) scale(0.84 1)" class="lg">Pn0</text>
<text transform="translate(536.7 155.6) scale(0.84 1)" class="lg">Pn1</text>
<text transform="translate(322.6 212.3) scale(0.82 1)" class="rt">Number at risk</text>
<path d="M322.7 217.2V249.5H495.5" fill="none" stroke="#7a7a7a" stroke-width="1"/>
<rect x="309.8" y="225.3" width="8" height="2.8" fill="#F8766D"/>
<rect x="309.8" y="240.1" width="8" height="2.7" fill="#00BFC4"/>
<path d="M322.7 249.5v1.2" stroke="#7a7a7a" stroke-width="1"/>
<text transform="translate(322.7 260.4) scale(0.8 1)" text-anchor="middle" class="rx">0</text>
<text transform="translate(328.1 229.9) scale(0.82 1)" text-anchor="middle" class="rn">38</text>
<text transform="translate(328.1 244.2) scale(0.82 1)" text-anchor="middle" class="rn">469</text>
<path d="M349.25 249.5v1.2" stroke="#7a7a7a" stroke-width="1"/>
<text transform="translate(349.25 260.4) scale(0.8 1)" text-anchor="middle" class="rx">12</text>
<text transform="translate(349.25 229.9) scale(0.82 1)" text-anchor="middle" class="rn">23</text>
<text transform="translate(349.25 244.2) scale(0.82 1)" text-anchor="middle" class="rn">228</text>
<path d="M375.8 249.5v1.2" stroke="#7a7a7a" stroke-width="1"/>
<text transform="translate(375.8 260.4) scale(0.8 1)" text-anchor="middle" class="rx">24</text>
<text transform="translate(375.8 229.9) scale(0.82 1)" text-anchor="middle" class="rn">12</text>
<text transform="translate(375.8 244.2) scale(0.82 1)" text-anchor="middle" class="rn">77</text>
<path d="M402.35 249.5v1.2" stroke="#7a7a7a" stroke-width="1"/>
<text transform="translate(402.35 260.4) scale(0.8 1)" text-anchor="middle" class="rx">36</text>
<text transform="translate(402.35 229.9) scale(0.82 1)" text-anchor="middle" class="rn">7</text>
<text transform="translate(402.35 244.2) scale(0.82 1)" text-anchor="middle" class="rn">40</text>
<path d="M428.9 249.5v1.2" stroke="#7a7a7a" stroke-width="1"/>
<text transform="translate(428.9 260.4) scale(0.8 1)" text-anchor="middle" class="rx">48</text>
<text transform="translate(428.9 229.9) scale(0.82 1)" text-anchor="middle" class="rn">5</text>
<text transform="translate(428.9 244.2) scale(0.82 1)" text-anchor="middle" class="rn">23</text>
<path d="M455.45 249.5v1.2" stroke="#7a7a7a" stroke-width="1"/>
<text transform="translate(455.45 260.4) scale(0.8 1)" text-anchor="middle" class="rx">60</text>
<text transform="translate(455.45 229.9) scale(0.82 1)" text-anchor="middle" class="rn">2</text>
<text transform="translate(455.45 244.2) scale(0.82 1)" text-anchor="middle" class="rn">8</text>
<path d="M482 249.5v1.2" stroke="#7a7a7a" stroke-width="1"/>
<text transform="translate(482 260.4) scale(0.8 1)" text-anchor="middle" class="rx">72</text>
<text transform="translate(482 229.9) scale(0.82 1)" text-anchor="middle" class="rn">0</text>
<text transform="translate(482 244.2) scale(0.82 1)" text-anchor="middle" class="rn">6</text>
<text transform="translate(409.1 272.7) scale(0.8 1)" text-anchor="middle" class="rxt">Months</text>
</svg></body></html>
